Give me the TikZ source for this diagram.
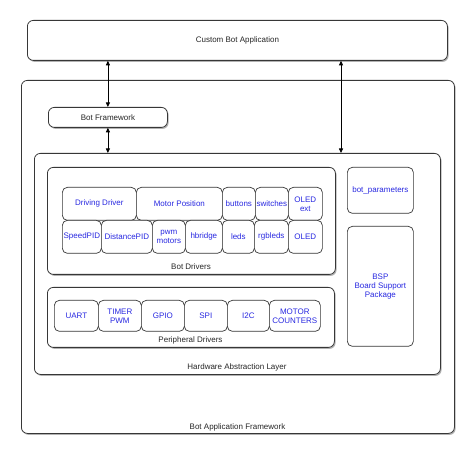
\documentclass[tikz,border=0pt]{standalone}
\usepackage{fontspec}
\setmainfont{Liberation Sans}
\usetikzlibrary{arrows.meta,shadows}
\definecolor{txtblue}{RGB}{40,40,225}
\definecolor{edge}{RGB}{55,55,55}
\tikzset{
  frame/.style={draw=edge, line width=0.8pt, rounded corners=6pt, fill=white, inner sep=0pt,
    drop shadow={shadow xshift=1.2pt, shadow yshift=-1.5pt, opacity=0.3, fill=black}},
  cellbox/.style={draw=edge, line width=0.7pt, rounded corners=5pt, fill=white, inner sep=0pt,
    text=txtblue, align=center, font=\fontsize{8}{9.2}\selectfont},
  lbl/.style={font=\fontsize{8}{9.2}\selectfont, text=black!85, inner sep=0pt},
  biarrow/.style={draw=black, line width=0.8pt, {Triangle[width=4pt,length=4.5pt]}-{Triangle[width=4pt,length=4.5pt]}}
}
\newcommand{\mkbox}[7]{\node[#1, minimum width={#5pt-#3pt}, minimum height={#6pt-#4pt}, anchor=north west] (#2) at (#3,#4) {#7};}
\begin{document}
\begin{tikzpicture}[x=1pt,y=-1pt]
\useasboundingbox (0,0) rectangle (474,454);
% containers
\mkbox{frame}{app}{27}{20}{447}{60}{}
\node[lbl] (applbl) at (app.center) {Custom Bot Application};
\mkbox{frame}{baf}{21}{80}{454}{433}{}
\node[lbl] (baflbl) at (237.5,427) {Bot Application Framework};
\mkbox{frame}{bf}{48}{107}{167}{127}{}
\node[lbl] (bflbl) at (bf.center) {Bot Framework};
\mkbox{frame}{hal}{34}{153}{440}{374}{}
\node[lbl] (hallbl) at (237,367) {Hardware Abstraction Layer};
\mkbox{frame}{bd}{47}{167}{335}{274}{}
\node[lbl] (bdlbl) at (191,267) {Bot Drivers};
\mkbox{frame}{pd}{47}{287}{334}{347}{}
\node[lbl] (pdlbl) at (190.5,340) {Peripheral Drivers};
% bot driver cells
\mkbox{cellbox}{dd}{62}{187}{136}{220}{Driving Driver}
\mkbox{cellbox}{mp}{136}{187}{222}{220}{Motor Position}
\mkbox{cellbox}{btn}{222}{187}{255}{220}{buttons}
\mkbox{cellbox}{sw}{255}{187}{288}{220}{switches}
\mkbox{cellbox}{oledx}{288}{187}{322}{220}{OLED\\ext}
\mkbox{cellbox}{spid}{62}{220}{101}{253}{SpeedPID}
\mkbox{cellbox}{dpid}{101}{220}{152}{253}{DistancePID}
\mkbox{cellbox}{pwm}{152}{220}{185}{253}{pwm\\motors}
\mkbox{cellbox}{hb}{185}{220}{222}{253}{hbridge}
\mkbox{cellbox}{leds}{222}{220}{254}{253}{leds}
\mkbox{cellbox}{rgb}{254}{220}{288}{253}{rgbleds}
\mkbox{cellbox}{oled}{288}{220}{322}{253}{OLED}
% peripheral cells
\mkbox{cellbox}{uart}{54}{300}{98}{331}{UART}
\mkbox{cellbox}{tim}{98}{300}{141}{331}{TIMER\\PWM}
\mkbox{cellbox}{gpio}{141}{300}{184}{331}{GPIO}
\mkbox{cellbox}{spi}{184}{300}{227}{331}{SPI}
\mkbox{cellbox}{i2c}{227}{300}{269}{331}{I2C}
\mkbox{cellbox}{mc}{269}{300}{320}{331}{MOTOR\\COUNTERS}
% right column
\mkbox{cellbox}{bp}{347}{167}{413}{213}{bot\_parameters}
\mkbox{cellbox}{bsp}{347}{226}{413}{346}{BSP\\Board Support\\Package}
% connectors
\coordinate (c3) at (341,0);
\draw[biarrow] (bf.north |- app.south) -- (bf.north);
\draw[biarrow] (bf.south) -- (bf.south |- hal.north);
\draw[biarrow] (app.south -| c3) -- (hal.north -| c3);
\end{tikzpicture}
\end{document}
